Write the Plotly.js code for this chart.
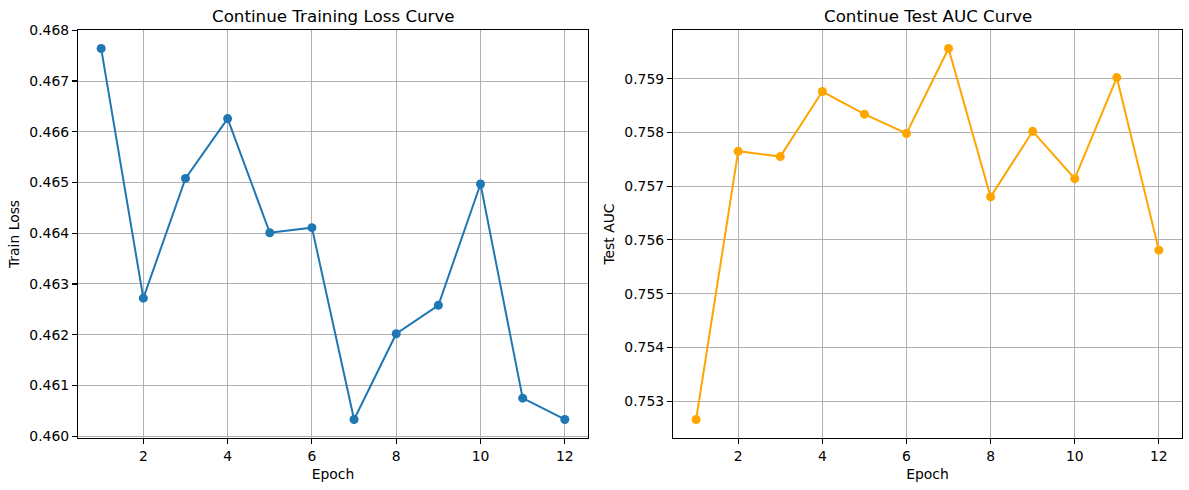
<!DOCTYPE html>
<html>
<head>
<meta charset="utf-8">
<script src="https://cdn.plot.ly/plotly-3.0.1.min.js"></script>
<style>html,body{margin:0;padding:0;background:#fff;}#chart{width:1189px;height:490px;}</style>
</head>
<body>
<div id="chart"></div>
<script>
const epochs = [1, 2, 3, 4, 5, 6, 7, 8, 9, 10, 11, 12];
const trainLoss = [0.46764, 0.46272, 0.46508, 0.46626, 0.46401, 0.46411, 0.46033, 0.46202, 0.46258, 0.46497, 0.46075, 0.46033];
const testAUC = [0.75266, 0.75765, 0.75755, 0.75876, 0.75834, 0.75798, 0.75956, 0.75680, 0.75802, 0.75714, 0.75902, 0.75581];
const xTicks = [2, 4, 6, 8, 10, 12];
const titles = ["Continue Training Loss Curve", "Continue Test AUC Curve"];
const yTitles = ["Train Loss", "Test AUC"];

const W = 1189, H = 490;
const font = {family: "DejaVu Sans", size: 13.9, color: "#000"};

function pad(arr, frac) {
  const mn = Math.min(...arr), mx = Math.max(...arr);
  const m = (mx - mn) * frac;
  return [mn - m, mx + m];
}

const traces = [
  {x: epochs, y: trainLoss, type: "scatter", mode: "lines+markers",
   line: {color: "#1f77b4", width: 2}, marker: {color: "#1f77b4", size: 9},
   xaxis: "x", yaxis: "y", showlegend: false},
  {x: epochs, y: testAUC, type: "scatter", mode: "lines+markers",
   line: {color: "#FFA500", width: 2}, marker: {color: "#FFA500", size: 9},
   xaxis: "x2", yaxis: "y2", showlegend: false}
];

const xr = pad(epochs, 0.05);
const yDom = [1 - 438 / H, 1 - 30 / H];
const xDom1 = [78 / W, 588 / W];
const xDom2 = [673 / W, 1182 / W];

function xaxis(dom, anchor) {
  return {domain: dom, anchor: anchor, range: xr, tickvals: xTicks,
    showgrid: true, gridcolor: "#b0b0b0", gridwidth: 1,
    showline: true, linecolor: "#000", linewidth: 1.1, mirror: true,
    ticks: "outside", ticklen: 5, tickwidth: 1.1, tickcolor: "#000",
    zeroline: false, tickfont: font,
    title: {text: "Epoch", font: font, standoff: 6}};
}
function yaxis(anchor, data, title) {
  return {domain: yDom, anchor: anchor, range: pad(data, 0.05), dtick: 0.001, tick0: 0,
    tickformat: ".3f",
    showgrid: true, gridcolor: "#b0b0b0", gridwidth: 1,
    showline: true, linecolor: "#000", linewidth: 1.1, mirror: true,
    ticks: "outside", ticklen: 5, tickwidth: 1.1, tickcolor: "#000",
    zeroline: false, tickfont: font,
    title: {text: title, font: font, standoff: 6}};
}

const layout = {
  width: W, height: H,
  margin: {l: 0, r: 0, t: 0, b: 0},
  paper_bgcolor: "#fff", plot_bgcolor: "#fff",
  font: font,
  xaxis: xaxis(xDom1, "y"),
  yaxis: yaxis("x", trainLoss, yTitles[0]),
  xaxis2: xaxis(xDom2, "y2"),
  yaxis2: yaxis("x2", testAUC, yTitles[1]),
  annotations: [
    {text: titles[0], xref: "paper", yref: "paper", x: (xDom1[0] + xDom1[1]) / 2, y: 1 - 16 / H,
     xanchor: "center", yanchor: "middle", showarrow: false, font: {family: "DejaVu Sans", size: 16.7, color: "#000"}},
    {text: titles[1], xref: "paper", yref: "paper", x: (xDom2[0] + xDom2[1]) / 2, y: 1 - 16 / H,
     xanchor: "center", yanchor: "middle", showarrow: false, font: {family: "DejaVu Sans", size: 16.7, color: "#000"}}
  ]
};

Plotly.newPlot("chart", traces, layout, {displayModeBar: false, staticPlot: true});
</script>
</body>
</html>
